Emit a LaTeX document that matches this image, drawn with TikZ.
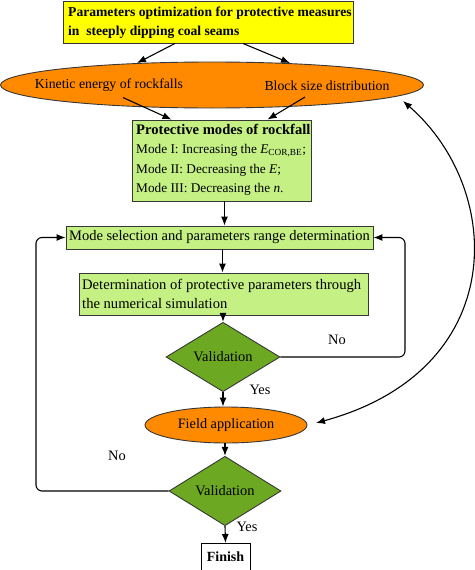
\documentclass[tikz,border=0pt]{standalone}
\usepackage{fontspec}
\setmainfont{Liberation Serif}
\usetikzlibrary{shapes.geometric,arrows.meta}
\definecolor{ybox}{RGB}{255,255,0}
\definecolor{oell}{RGB}{255,138,0}
\definecolor{lgreen}{RGB}{196,240,132}
\definecolor{dgreen}{RGB}{108,168,34}
\definecolor{bord}{RGB}{55,55,55}
\tikzset{
  arr/.style={-{Latex[length=9pt,width=7pt]}, line width=1.1pt, black},
  darr/.style={{Latex[length=9pt,width=7pt]}-{Latex[length=9pt,width=7pt]}, line width=1.1pt, black},
  gbox/.style={draw=bord, line width=0.9pt, fill=lgreen, inner sep=0pt, font=\fontsize{14.5}{16}\selectfont},
  oval/.style={ellipse, draw=bord, line width=0.9pt, fill=oell, inner sep=0pt},
  dmd/.style={diamond, draw=bord, line width=0.9pt, fill=dgreen, inner sep=0pt, font=\fontsize{14.4}{16}\selectfont},
  lbl/.style={font=\fontsize{14.4}{16}\selectfont, inner sep=0pt},
}
\begin{document}
\begin{tikzpicture}[x=1pt,y=-1pt]
\useasboundingbox (0,0) rectangle (474,570);
% top box
\node[draw=bord, line width=0.9pt, fill=ybox, minimum width=290pt, minimum height=42pt, inner sep=0pt] (top) at (208,22) {};
\node[anchor=west, align=left, inner sep=0pt, font=\bfseries\fontsize{13.6}{19}\selectfont] (toptxt) at (68,23) {Parameters optimization for protective measures\\in\ \ steeply dipping coal seams};
% big ellipse
\node[oval, minimum width=423pt, minimum height=46pt] (ell) at (212,85) {};
\node[inner sep=0pt, font=\fontsize{13.8}{16}\selectfont] (kin) at (109,85) {Kinetic energy of rockfalls};
\node[inner sep=0pt, font=\fontsize{13.8}{16}\selectfont] (blk) at (327,86) {Block size distribution};
% modes box
\node[gbox, minimum width=179pt, minimum height=81pt] (modes) at (221.5,160.5) {};
\node[anchor=north west, align=left, inner sep=0pt, font=\fontsize{13.3}{19.3}\selectfont] (modestxt) at (136,124) {\textbf{\fontsize{14.6}{19.3}\selectfont Protective modes of rockfall}\\Mode I: Increasing the \textit{E}\textsubscript{COR,BE};\\Mode II: Decreasing the \textit{E};\\Mode III: Decreasing the \textit{n}.};
% mode selection
\node[gbox, minimum width=307pt, minimum height=23pt] (sel) at (219.5,237.5) {Mode selection and parameters range determination};
% determination
\node[gbox, minimum width=289pt, minimum height=42pt] (det) at (223.5,294) {};
\node[anchor=west, align=left, inner sep=0pt, font=\fontsize{14.6}{19}\selectfont] (dettxt) at (82,294) {Determination of protective parameters through\\the numerical simulation};
% validation 1
\node[dmd, minimum width=114pt, minimum height=44pt] (v1) at (223,357) {Validation};
% field application
\node[oval, minimum width=162pt, minimum height=36pt, font=\fontsize{14.3}{16}\selectfont] (field) at (226,425) {Field application};
% validation 2
\node[dmd, minimum width=112pt, minimum height=45pt] (v2) at (225,491) {Validation};
% finish
\node[draw=black, line width=0.9pt, fill=white, minimum width=49pt, minimum height=30pt, inner sep=0pt, anchor=north] (fin) at (225.5,543) {};
\node[inner sep=0pt, font=\bfseries\fontsize{14}{15}\selectfont] (fintxt) at (225.5,557) {Finish};
% labels
\node[lbl] (no1) at (337,340) {No};
\node[lbl] (yes1) at (260,390) {Yes};
\node[lbl] (no2) at (117,456) {No};
\node[lbl] (yes2) at (247,527) {Yes};
% arrows top
\draw[arr] ([xshift=-33pt]top.south) -- ([xshift=-75pt,yshift=-1.5pt]ell.north);
\draw[arr] ([xshift=35pt]top.south) -- ([xshift=78pt,yshift=-1.5pt]ell.north);
\draw[arr] ([xshift=14pt,yshift=-6pt]kin.south) -- ([xshift=-50pt]modes.north);
\draw[arr] ([xshift=-22pt,yshift=-6pt]blk.south) -- ([xshift=46pt]modes.north);
% vertical chain
\draw[arr] ([xshift=3pt]modes.south) -- ([xshift=3pt]modes.south |- sel.north);
\draw[arr] ([xshift=3pt]sel.south) -- ([xshift=3pt]sel.south |- det.north);
\draw[arr] (det.south -| v1.north) -- (v1.north);
\draw[arr] (v1.south) -- (v1.south |- field.north);
\draw[arr] (field.south -| v2.north) -- (v2.north);
\draw[arr] (v2.south) -- (fin.north);
% loops
\coordinate (rc) at (405,357);
\coordinate (lc) at (36,491);
\draw[arr, rounded corners=6pt] (v1.east) -- (rc) |- (sel.east);
\draw[arr, rounded corners=6pt] (v2.west) -- (lc) |- (sel.west);
% curved
\coordinate (fe) at (316,423);
\coordinate (ee) at (403,101);
\draw[darr] (fe) .. controls (510,370) and (505,190) .. (ee);
\end{tikzpicture}
\end{document}
